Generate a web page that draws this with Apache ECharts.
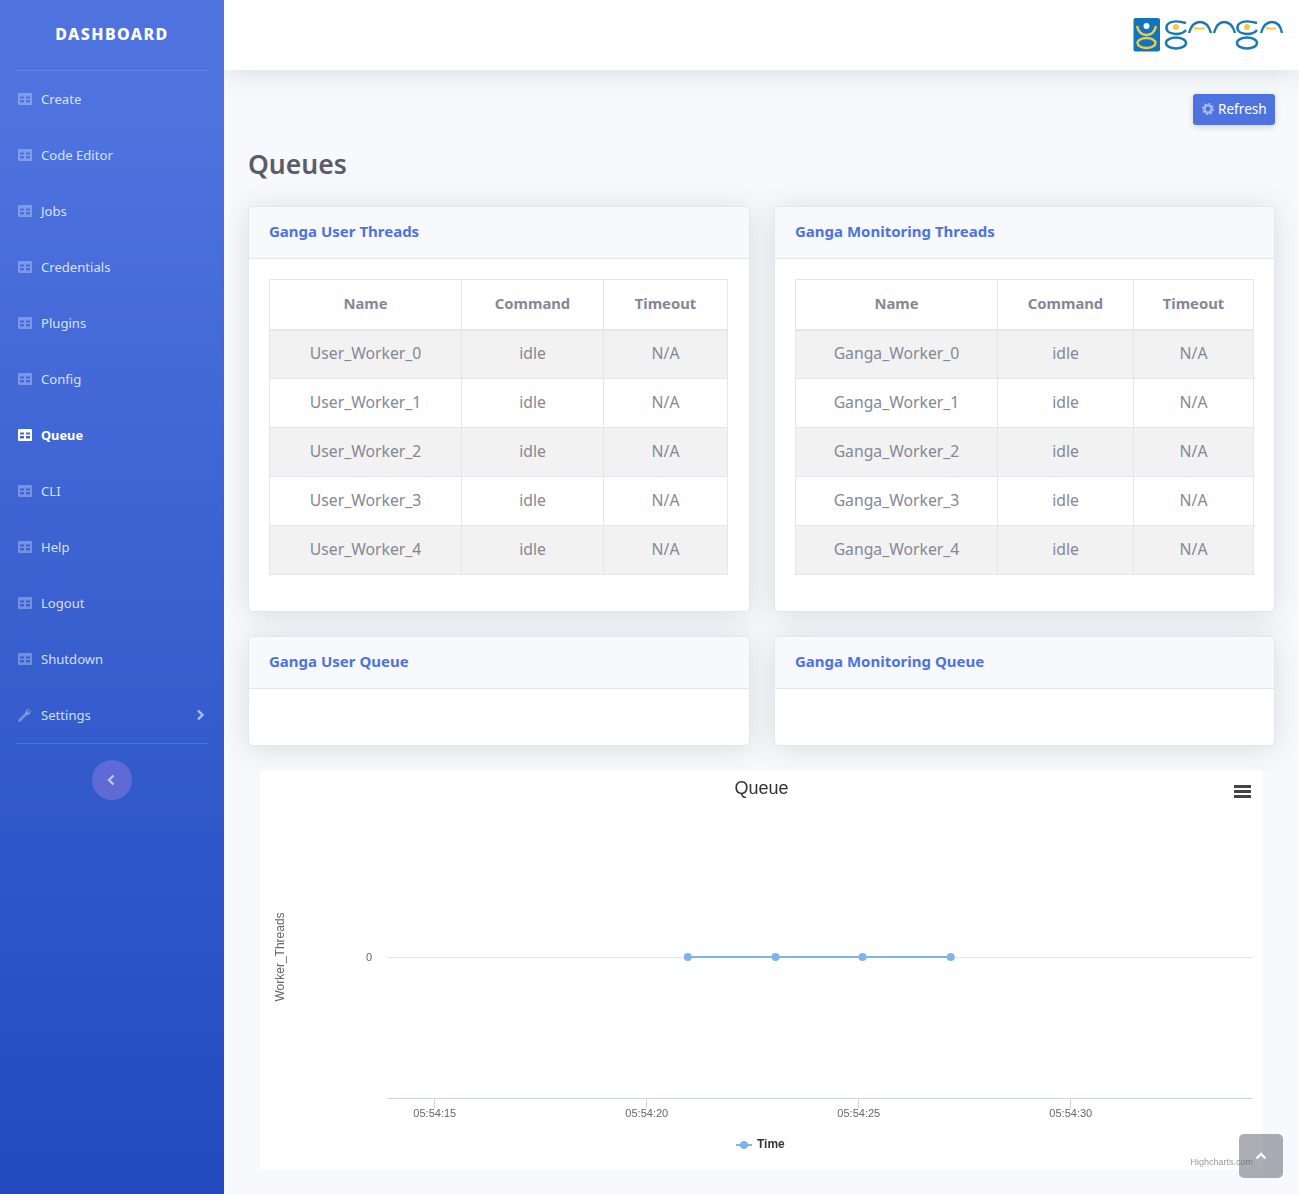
<!DOCTYPE html>
<html>
<head>
<meta charset="utf-8">
<title>Queues</title>
<script src="https://cdn.jsdelivr.net/npm/echarts@6/dist/echarts.min.js"></script>
<style>
* { box-sizing: border-box; }
html, body { margin: 0; padding: 0; width: 1299px; height: 1194px; overflow: hidden; background: #f8f9fc; font-family: "Noto Sans", sans-serif; color: #858796; }
#sidebar { position: absolute; left: 0; top: 0; width: 224px; height: 1194px; background: linear-gradient(180deg, #4e73df 10%, #224abe 100%); }
#brand { position: absolute; left: 0; width: 224px; top: 24px; text-align: center; color: #fff; font-weight: 800; font-size: 16px; letter-spacing: 1.4px; line-height: 20px; }
.rule { position: absolute; left: 16px; width: 192px; height: 1px; background: rgba(255,255,255,.15); }
.nav { position: absolute; left: 41px; font-size: 13.1px; line-height: 18px; color: rgba(255,255,255,.8); }
.nav.on { color: #fff; font-weight: 700; font-size: 12.8px; }
.ico { position: absolute; left: 18px; width: 14px; height: 12px; }
#topbar { position: absolute; left: 224px; top: 0; width: 1075px; height: 70px; background: #fff; box-shadow: 0 .15rem 1.75rem 0 rgba(58,59,69,.15); }
#refresh { position: absolute; left: 1193px; top: 94px; width: 82px; height: 31px; background: #4e73df; border-radius: 3px; color: #fff; font-size: 13.6px; line-height: 30px; padding-left: 25px; box-shadow: 0 2px 6px rgba(58,59,69,.2); }
#heading { position: absolute; left: 248px; top: 145px; font-size: 26.5px; line-height: 38px; font-weight: 600; color: #5a5c69; }
.card { position: absolute; background: #fff; border: 1px solid #e3e6f0; border-radius: 5px; box-shadow: 0 .15rem 1.75rem 0 rgba(58,59,69,.15); overflow: hidden; }
.card h6 { margin: 0; height: 52px; background: #f8f9fc; border-bottom: 1px solid #e3e6f0; padding-left: 20px; font-size: 15px; line-height: 48px; font-weight: 700; color: #4e73df; }
table { position: absolute; left: 20px; top: 72px; width: 458px; border-collapse: collapse; table-layout: fixed; font-size: 15.75px; }
td, th { border: 1px solid #e3e6f0; text-align: center; padding: 0 0 2px 0; height: 49px; }
th { height: 50px; border-bottom-width: 2px; font-weight: 700; font-size: 14.8px; }
tbody tr:nth-child(odd) { background: #f2f2f2; }
#chart { position: absolute; left: 260px; top: 770px; width: 1003px; height: 400px; background: #fff; }
#totop { position: absolute; left: 1239px; top: 1134px; width: 44px; height: 44px; border-radius: 5px; background: rgba(90,92,105,.5); }
</style>
</head>
<body>
<div id="topbar">
</div>
<svg style="position:absolute;left:1130px;top:14px" width="160" height="42" viewBox="1130 14 160 42" fill="none" stroke-width="2.4">
  <rect x="1133.5" y="18" width="26.5" height="33.5" rx="2" fill="#0f75bc"/>
  <circle cx="1146.5" cy="26" r="3" fill="#fff"/>
  <path d="M1137 26 Q1139 35 1146.5 35 Q1154 35 1156 26" stroke="#f7c93e"/>
  <ellipse cx="1146.5" cy="43" rx="9" ry="5" stroke="#f7c93e"/>
  <g stroke="#1a78b4">
    <path d="M1186 23 Q1172 19 1167 25 Q1164 33 1176 34 Q1183 34 1186 30"/>
    <ellipse cx="1176" cy="43" rx="10" ry="5.5"/>
    <path d="M1189 33 Q1192 22 1200 22 Q1208 22 1211 33"/>
    <path d="M1214 33 Q1217 22 1224 22 Q1232 22 1235 33"/>
    <path d="M1257 23 Q1243 19 1238 25 Q1235 33 1247 34 Q1254 34 1257 30"/>
    <ellipse cx="1247" cy="43" rx="10" ry="5.5"/>
    <path d="M1261 33 Q1264 22 1272 22 Q1280 22 1282 33"/>
  </g>
  <g fill="#f7c93e">
    <circle cx="1176" cy="27" r="3"/>
    <rect x="1194" y="27.5" width="11" height="2"/>
    <circle cx="1247" cy="27" r="3"/>
    <rect x="1266" y="27.5" width="10" height="2"/>
  </g>
</svg>
<div id="sidebar">
  <div id="brand">DASHBOARD</div>
  <div class="rule" style="top:70px"></div>
  <div class="rule" style="top:743px"></div>
  <div id="navs"></div>
  <svg style="position:absolute;left:196px;top:709px" width="9" height="12" viewBox="0 0 9 12"><path d="M2 1.5 L6.5 6 L2 10.5" fill="none" stroke="rgba(255,255,255,.6)" stroke-width="2.4"/></svg>
  <div style="position:absolute;left:92px;top:760px;width:40px;height:40px;border-radius:50%;background:#5f6ad5"></div>
  <svg style="position:absolute;left:107px;top:774px" width="9" height="12" viewBox="0 0 9 12"><path d="M6.5 1.5 L2 6 L6.5 10.5" fill="none" stroke="rgba(255,255,255,.6)" stroke-width="2.4"/></svg>
</div>
<div id="refresh">Refresh</div>
<svg style="position:absolute;left:1202px;top:103px" width="12" height="12" viewBox="0 0 12 12"><circle cx="6" cy="6" r="3.6" fill="none" stroke="rgba(255,255,255,.5)" stroke-width="2.4"/><circle cx="6" cy="6" r="5.4" fill="none" stroke="rgba(255,255,255,.5)" stroke-width="1.4" stroke-dasharray="2 2.2"/></svg>
<div id="heading">Queues</div>

<div class="card" style="left:248px;top:206px;width:502px;height:406px"><h6>Ganga User Threads</h6><table id="userTable"></table></div>
<div class="card" style="left:774px;top:206px;width:501px;height:406px"><h6>Ganga Monitoring Threads</h6><table id="monTable"></table></div>
<div class="card" style="left:248px;top:636px;width:502px;height:110px"><h6>Ganga User Queue</h6></div>
<div class="card" style="left:774px;top:636px;width:501px;height:110px"><h6>Ganga Monitoring Queue</h6></div>

<div id="chart"></div>
<div id="totop">
  <svg style="position:absolute;left:16px;top:18px" width="12" height="8" viewBox="0 0 12 8"><path d="M1.5 6.5 L6 2 L10.5 6.5" fill="none" stroke="#fff" stroke-width="2.4"/></svg>
</div>

<script>
const navItems = ['Create', 'Code Editor', 'Jobs', 'Credentials', 'Plugins', 'Config', 'Queue', 'CLI', 'Help', 'Logout', 'Shutdown', 'Settings'];
const activeItem = 'Queue';
const tableHeader = ['Name', 'Command', 'Timeout'];
const userWorkers = ['User_Worker_0', 'User_Worker_1', 'User_Worker_2', 'User_Worker_3', 'User_Worker_4'];
const monWorkers = ['Ganga_Worker_0', 'Ganga_Worker_1', 'Ganga_Worker_2', 'Ganga_Worker_3', 'Ganga_Worker_4'];

const queueTimes = ['2021-01-01T05:54:20.980', '2021-01-01T05:54:23.050', '2021-01-01T05:54:25.100', '2021-01-01T05:54:27.180'];
const queueValues = [0, 0, 0, 0];
const tickTimes = ['2021-01-01T05:54:15', '2021-01-01T05:54:20', '2021-01-01T05:54:25', '2021-01-01T05:54:30'];
const axisStart = '2021-01-01T05:54:13.885';
const axisEnd = '2021-01-01T05:54:34.310';

// sidebar
let navHtml = '';
navItems.forEach(function (name, i) {
    const y = 99 + i * 56;
    const on = name === activeItem;
    const c = on ? '#fff' : 'rgba(255,255,255,.3)';
    if (name === 'Settings') {
        navHtml += '<svg class="ico" style="top:' + (y - 7) + 'px;height:14px" viewBox="0 0 14 14"><path d="M1.5 12.5 L8 6" stroke="' + c + '" stroke-width="3" stroke-linecap="round"/><path d="M7 5 Q7 1 12 1 L9.5 3.5 L10.5 4.5 L13 2 Q13 7 9 7 Z" fill="' + c + '"/></svg>';
    } else {
        navHtml += '<svg class="ico" style="top:' + (y - 6) + 'px" viewBox="0 0 14 12"><path fill-rule="evenodd" d="M1 0 H13 Q14 0 14 1 V11 Q14 12 13 12 H1 Q0 12 0 11 V1 Q0 0 1 0 Z M2 3.5 V5.5 H6 V3.5 Z M8 3.5 V5.5 H12 V3.5 Z M2 7 V9.5 H6 V7 Z M8 7 V9.5 H12 V7 Z" fill="' + c + '"/></svg>';
    }
    navHtml += '<div class="nav' + (on ? ' on' : '') + '" style="top:' + (y - 9) + 'px">' + name + '</div>';
});
document.getElementById('navs').innerHTML = navHtml;

// tables
function fillTable(id, workers, widths) {
    let html = '<colgroup>' + widths.map(function (w) { return '<col style="width:' + w + 'px">'; }).join('') + '</colgroup>';
    html += '<thead><tr>' + tableHeader.map(function (h) { return '<th>' + h + '</th>'; }).join('') + '</tr></thead><tbody>';
    workers.forEach(function (w) {
        html += '<tr><td>' + w + '</td><td>idle</td><td>N/A</td></tr>';
    });
    document.getElementById(id).innerHTML = html + '</tbody>';
}
fillTable('userTable', userWorkers, [192, 142, 124]);
fillTable('monTable', monWorkers, [202, 136, 120]);

// chart
const chart = echarts.init(document.getElementById('chart'));
const hcFont = '"Liberation Sans", Arial, sans-serif';
chart.setOption({
    animation: false,
    backgroundColor: '#fff',
    title: {
        text: 'Queue',
        left: 'center',
        top: 5,
        textStyle: { fontFamily: hcFont, fontSize: 18, fontWeight: 'normal', color: '#333' }
    },
    legend: {
        data: ['Time'],
        left: 470,
        top: 364,
        itemWidth: 16,
        itemHeight: 10,
        itemGap: 0,
        textStyle: { fontFamily: hcFont, fontSize: 12, fontWeight: 'bold', color: '#333' }
    },
    grid: { left: 127, right: 10, top: 45.5, bottom: 71.5 },
    xAxis: {
        type: 'time',
        min: new Date(axisStart).getTime(),
        max: new Date(axisEnd).getTime(),
        axisLine: { onZero: false, lineStyle: { color: '#ccd6eb', width: 1 } },
        axisTick: { length: 10, lineStyle: { color: '#ccd6eb' }, customValues: tickTimes.map(function (t) { return new Date(t).getTime(); }) },
        axisLabel: {
            customValues: tickTimes.map(function (t) { return new Date(t).getTime(); }),
            formatter: '{HH}:{mm}:{ss}',
            margin: 10,
            padding: [0, 0, 0, 1],
            fontFamily: hcFont,
            fontSize: 11,
            color: '#666'
        },
        splitLine: { show: false }
    },
    yAxis: {
        type: 'value',
        min: -1,
        max: 1,
        interval: 1,
        name: 'Worker_Threads',
        nameLocation: 'middle',
        nameGap: 100,
        nameTextStyle: { fontFamily: hcFont, fontSize: 12, color: '#666' },
        axisLine: { show: false },
        axisTick: { show: false },
        axisLabel: { showMinLabel: false, showMaxLabel: false, margin: 15, verticalAlign: 'top', lineHeight: 2, fontFamily: hcFont, fontSize: 11, color: '#666' },
        splitLine: { showMinLine: false, showMaxLine: false, lineStyle: { color: '#e6e6e6' } }
    },
    series: [{
        name: 'Time',
        type: 'line',
        data: queueTimes.map(function (t, i) { return [new Date(t).getTime(), queueValues[i]]; }),
        symbol: 'circle',
        symbolSize: 8,
        lineStyle: { color: '#7cb5ec', width: 2 },
        itemStyle: { color: '#7cb5ec' }
    }],
    graphic: [
        { type: 'rect', shape: { x: 974, y: 15, width: 17, height: 3 }, style: { fill: '#444' } },
        { type: 'rect', shape: { x: 974, y: 20, width: 17, height: 3 }, style: { fill: '#444' } },
        { type: 'rect', shape: { x: 974, y: 25, width: 17, height: 3 }, style: { fill: '#444' } },
        { type: 'text', right: 10, top: 388, style: { text: 'Highcharts.com', fontFamily: hcFont, fontSize: 9, fill: '#999' } }
    ]
});
</script>
</body>
</html>
